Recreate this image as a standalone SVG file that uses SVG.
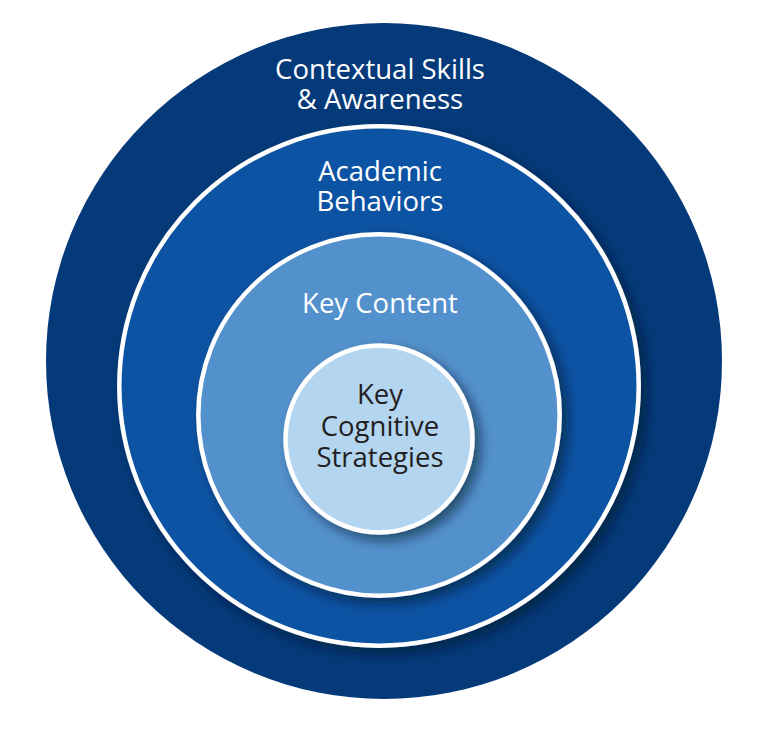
<svg xmlns="http://www.w3.org/2000/svg" width="772" height="754" viewBox="0 0 772 754">
  <defs>
    <filter id="shadow" x="-20%" y="-20%" width="140%" height="140%">
      <feDropShadow dx="6" dy="6" stdDeviation="6" flood-color="#000820" flood-opacity="0.55"/>
    </filter>
  </defs>
  <style>
    .ring { stroke: #ffffff; stroke-width: 4.5; }
    .lbl { font-family: "Open Sans", "Noto Sans", "Liberation Sans", sans-serif; font-size: 27.5px; text-anchor: middle; fill: #ffffff; }
    .dark { fill: #231f20; }
  </style>
  <rect width="772" height="754" fill="#ffffff"/>
  <g id="node-contextual">
    <circle cx="384" cy="361" r="338" fill="#043a7a"/>
    <text class="lbl" x="380" y="79">Contextual Skills</text>
    <text class="lbl" x="380" y="109">&amp; Awareness</text>
  </g>
  <g id="node-academic">
    <circle class="ring" cx="379" cy="386" r="259.7" fill="#0953a3" filter="url(#shadow)"/>
    <text class="lbl" x="380" y="181">Academic</text>
    <text class="lbl" x="380" y="211">Behaviors</text>
  </g>
  <g id="node-content">
    <circle class="ring" cx="379" cy="415" r="180.7" fill="#5391cd" filter="url(#shadow)"/>
    <text class="lbl" x="380" y="313">Key Content</text>
  </g>
  <g id="node-cognitive">
    <circle class="ring" cx="379" cy="439" r="93.5" fill="#b3d5f0" filter="url(#shadow)"/>
    <text class="lbl dark" x="380" y="404">Key</text>
    <text class="lbl dark" x="380" y="436">Cognitive</text>
    <text class="lbl dark" x="380" y="467">Strategies</text>
  </g>
  <g id="connectors"/>
</svg>
